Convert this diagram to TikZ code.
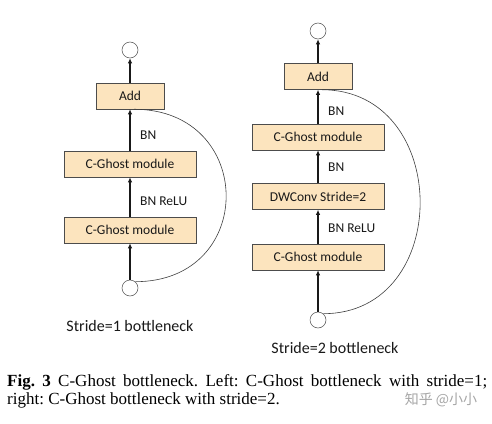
\documentclass[tikz,border=0pt]{standalone}
\usepackage{fontspec}
\setmainfont{Liberation Serif}
\newfontfamily\boxfont{Carlito}
\newfontfamily\cjk{Noto Sans CJK SC}
\usetikzlibrary{arrows.meta}
\definecolor{ghostfill}{HTML}{FCE4BE}
\tikzset{
	blok/.style={draw=black!70, fill=ghostfill, line width=0.5pt, minimum height=26pt, inner sep=0pt, font=\boxfont\fontsize{13.5}{15}\selectfont, text=black!90},
	krug/.style={circle, draw=black!70, fill=white, line width=0.5pt, minimum size=16pt, inner sep=0pt},
	strelka/.style={line width=1.2pt, black!90, -{Latex[length=5pt,width=4.5pt]}},
	podpis/.style={anchor=west, inner sep=0pt, font=\boxfont\fontsize{13.5}{15}\selectfont, text=black!90},
	duga/.style={black!75, line width=0.6pt}
}
\frenchspacing

\begin{document}
\begin{tikzpicture}[x=1pt, y=-1pt]
	% Поле рисунка
	\fill[white] (0,0) rectangle (492,423);
	\useasboundingbox (0,0) rectangle (492,423);
	
	% Левая схема: stride=1
	\node[krug] (lo) at (130,50) {};
	\node[blok, minimum width=68pt] (la) at (130,96) {Add};
	\node[blok, minimum width=132pt] (lg2) at (130,164) {C-Ghost module};
	\node[blok, minimum width=132pt] (lg1) at (130,230) {C-Ghost module};
	\node[krug] (li) at (130,288) {};
	
	\draw[strelka] (li) -- (lg1);
	\draw[strelka] (lg1) -- (lg2);
	\draw[strelka] (lg2) -- (la);
	\draw[strelka] (la) -- (lo);
	\draw[duga] ([xshift=4pt]la.south) .. controls +(122,0) and +(122,0) .. (li.50);
	
	\node[podpis] (lbn) at (140,135) {BN};
	\node[podpis] (lbnr) at (140,201) {BN ReLU};
	\node[font=\boxfont\fontsize{16}{18}\selectfont, text=black!90] (lt) at (130,326) {Stride=1 bottleneck};
	
	% Правая схема: stride=2
	\node[krug] (ro) at (318,31) {};
	\node[blok, minimum width=68pt] (ra) at (318,76.5) {Add};
	\node[blok, minimum width=132pt] (rg2) at (318,137) {C-Ghost module};
	\node[blok, minimum width=132pt] (rd) at (318,196.5) {DWConv Stride=2};
	\node[blok, minimum width=132pt] (rg1) at (318,257) {C-Ghost module};
	\node[krug] (ri) at (318,320) {};
	
	\draw[strelka] (ri) -- (rg1);
	\draw[strelka] (rg1) -- (rd);
	\draw[strelka] (rd) -- (rg2);
	\draw[strelka] (rg2) -- (ra);
	\draw[strelka] (ra) -- (ro);
	\draw[duga] ([xshift=4pt]ra.south) .. controls +(130,0) and +(130,0) .. (ri.50);
	
	\node[podpis] (rbn2) at (328,111) {BN};
	\node[podpis] (rbn1) at (328,167) {BN};
	\node[podpis] (rbnr) at (328,228) {BN ReLU};
	\node[font=\boxfont\fontsize{16}{18}\selectfont, text=black!90] (rt) at (335,348) {Stride=2 bottleneck};
	
	% Подпись к рисунку
	\node[anchor=base west, inner sep=0pt, font=\fontsize{17}{18}\selectfont] (cap1) at (7,386)
		{\hbox to 480pt{\textbf{Fig. 3} C-Ghost bottleneck. Left: C-Ghost bottleneck with stride=1;}};
	\node[anchor=base west, inner sep=0pt, font=\fontsize{17}{18}\selectfont] (cap2) at (7,404)
		{right: C-Ghost bottleneck with stride=2.};
	\node[anchor=base, inner sep=0pt, text=black!35, font=\cjk\fontsize{14}{16}\selectfont] (wm) at (441,404) {知乎 @小小};
\end{tikzpicture}
\end{document}
